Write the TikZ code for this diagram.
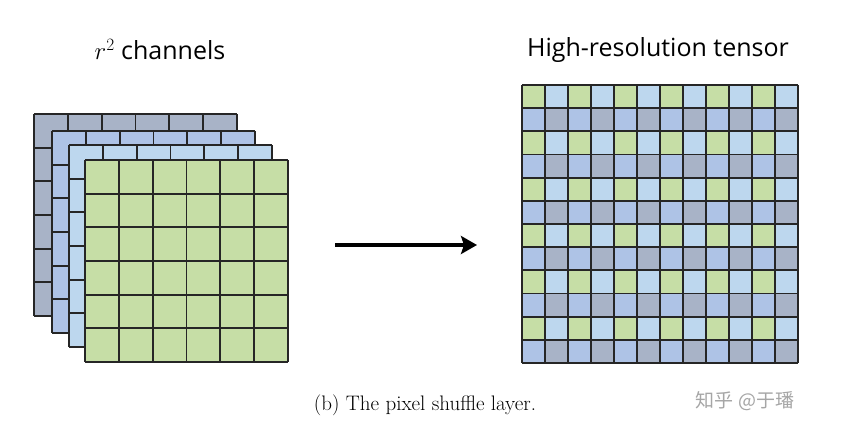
\documentclass[tikz,border=0pt]{standalone}
\usepackage{fontspec}
\usetikzlibrary{arrows.meta}
\newfontfamily\sansf{Open Sans}
\newfontfamily\cjk{Noto Sans CJK SC}
\definecolor{cg}{HTML}{C6DEA6}
\definecolor{clb}{HTML}{BDD7EE}
\definecolor{cmb}{HTML}{AEC3E6}
\definecolor{cgr}{HTML}{A8B3C7}
\begin{document}
\begin{tikzpicture}[x=1pt,y=-1pt,
  gl/.style={line width=1.8pt,draw=black!85},
  lbl/.style={font=\sansf\fontsize{25}{30}\selectfont}]
\useasboundingbox (0,0) rectangle (851,437);
\fill[white] (0,0) rectangle (851,437);
% stacked grids
\foreach \x/\y/\c in {34/114/cgr,52/131/cmb,69/145/clb,85/160/cg}{
  \fill[\c] (\x,\y) rectangle ++(203,202);
  \foreach \i in {0,...,6}{
    \draw[gl] (\x+\i*33.83,\y) -- (\x+\i*33.83,\y+202);
    \draw[gl] (\x,\y+\i*33.67) -- (\x+203,\y+\i*33.67);
  }
}
\node[lbl] (t1) at (160,50) {$r^2$ channels};
% arrow
\coordinate (a1) at (335,245);
\coordinate (a2) at (477,245);
\draw[line width=3.5pt,-{Stealth[length=16pt,width=18pt,inset=3pt]}] (a1) -- (a2);
% high-res grid
\foreach \r in {0,...,11}{
  \foreach \c in {0,...,11}{
    \pgfmathtruncatemacro{\rr}{mod(\r,2)}
    \pgfmathtruncatemacro{\cc}{mod(\c,2)}
    \ifnum\rr=0 \ifnum\cc=0 \def\col{cg}\else\def\col{clb}\fi
    \else \ifnum\cc=0 \def\col{cmb}\else\def\col{cgr}\fi\fi
    \fill[\col] (522+\c*23,85+\r*23.17) rectangle ++(23,23.17);
  }
}
\foreach \i in {0,...,12}{
  \draw[gl] (522+\i*23,85) -- (522+\i*23,363);
  \draw[gl] (522,85+\i*23.17) -- (798,85+\i*23.17);
}
\node[lbl] (t2) at (658,50) {High-resolution tensor};
\node[font=\fontsize{21}{24}\selectfont] (cap) at (425,405) {(b) The pixel shuffle layer.};
\node[font=\cjk\fontsize{19}{22}\selectfont,text=black!35] (wm) at (745,401) {知乎 @于璠};
\end{tikzpicture}
\end{document}
